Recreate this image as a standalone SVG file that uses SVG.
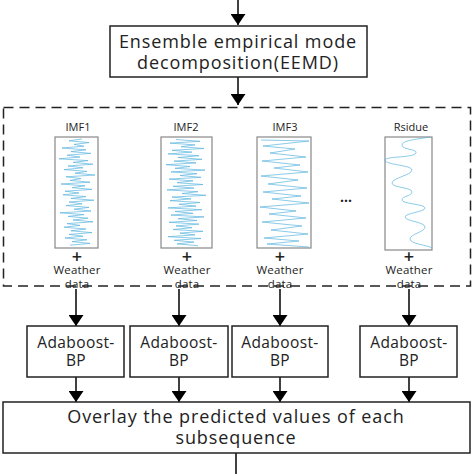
<svg xmlns="http://www.w3.org/2000/svg" width="474" height="474" viewBox="0 0 474 474">
<defs>
<marker id="ah" viewBox="0 0 11 15" refX="11" refY="7.5" markerWidth="11" markerHeight="15" markerUnits="userSpaceOnUse" orient="auto">
<path d="M0,0 L11,7.5 L0,15 Z" fill="#000"/>
</marker>
<style>
.box{fill:#fff;stroke:#222;stroke-width:1.5}
.t{font-family:"Open Sans","Noto Sans",sans-serif;fill:#222;text-anchor:middle}
.big{font-size:18px;letter-spacing:0.9px}
.mid{font-size:15.5px;letter-spacing:0.4px}
.sm{font-size:11px}
.wd{font-size:11.5px;letter-spacing:0.2px}
.plus{font-size:18px;font-weight:600}
.con{stroke:#111;stroke-width:1.6;fill:none;marker-end:url(#ah)}
.frame{fill:#fff;stroke:#888;stroke-width:1.2}
.wave{fill:none;stroke:#5ab4de;stroke-width:0.7;stroke-linejoin:round}
</style>
</defs>
<rect width="474" height="474" fill="#fff"/>

<g id="connectors">
<line class="con" x1="238" y1="0" x2="238" y2="25"/>
<line class="con" x1="238" y1="77" x2="238" y2="105"/>
<line class="con" x1="76" y1="289" x2="76" y2="326"/>
<line class="con" x1="179" y1="289" x2="179" y2="326"/>
<line class="con" x1="280" y1="289" x2="280" y2="326"/>
<line class="con" x1="409" y1="289" x2="409" y2="326"/>
<line class="con" x1="76" y1="377" x2="76" y2="402"/>
<line class="con" x1="179" y1="377" x2="179" y2="402"/>
<line class="con" x1="280" y1="377" x2="280" y2="402"/>
<line class="con" x1="409" y1="377" x2="409" y2="402"/>
<line class="con" x1="236" y1="453" x2="236" y2="486"/>
</g>

<g id="eemd">
<rect class="box" x="110" y="26" width="257" height="51"/>
<text class="t big" x="238" y="48">Ensemble empirical mode</text>
<text class="t big" x="238" y="69">decomposition(EEMD)</text>
</g>

<g id="decomposition">
<rect x="3.5" y="107.5" width="467" height="178.5" fill="none" stroke="#222" stroke-width="1.5" stroke-dasharray="10,6"/>

<g id="imf1">
<text class="t sm" x="78" y="131">IMF1</text>
<rect class="frame" x="55" y="137" width="43" height="111"/>
<polyline class="wave" stroke="#3b9fd2" points="82,139 69,140.8 89,142.6 74,144.4 84,146.2 62,148 86,149.8 71,151.6 91,153.4 67,155.2 80,157 59,158.8 88,160.6 73,162.4 93,164.2 68,166 83,167.8 64,169.6 87,171.4 75,173.2 95,175 66,176.8 81,178.6 70,180.4 90,182.2 61,184 85,185.8 72,187.6 92,189.4 65,191.2 79,193 63,194.8 86,196.6 71,198.4 94,200.2 69,202 82,203.8 66,205.6 89,207.4 74,209.2 91,211 60,212.8 84,214.6 68,216.4 88,218.2 73,220 93,221.8 67,223.6 80,225.4 64,227.2 86,229 71,230.8 92,232.6 69,234.4 83,236.2 65,238 87,239.8 72,241.6 90,243.4 70,245.2"/>
<text class="t plus" x="77" y="263">+</text>
<text class="t wd" x="77" y="274">Weather</text>
<text class="t wd" x="77" y="288">data</text>
</g>

<g id="imf2">
<text class="t sm" x="186" y="131">IMF2</text>
<rect class="frame" x="161" y="137" width="51" height="111"/>
<polyline class="wave" stroke="#7cc8e8" points="176,139.5 200,141.3 170,143.1 195,144.9 181,146.7 204,148.5 172,150.3 192,152.1 168,153.9 199,155.7 178,157.5 202,159.3 174,161.1 196,162.9 166,164.7 190,166.5 175,168.3 205,170.1 171,171.9 197,173.7 180,175.5 201,177.3 169,179.1 193,180.9 177,182.7 203,184.5 173,186.3 194,188.1 167,189.9 198,191.7 182,193.5 206,195.3 172,197.1 191,198.9 170,200.7 200,202.5 179,204.3 196,206.1 168,207.9 202,209.7 175,211.5 193,213.3 171,215.1 204,216.9 178,218.7 197,220.5 169,222.3 199,224.1 176,225.9 192,227.7 173,229.5 203,231.3 180,233.1 195,234.9 168,236.7 201,238.5 174,240.3 194,242.1 177,243.9 198,245.7"/>
<text class="t plus" x="187" y="263">+</text>
<text class="t wd" x="187" y="274">Weather</text>
<text class="t wd" x="187" y="288">data</text>
</g>

<g id="imf3">
<text class="t sm" x="285" y="131">IMF3</text>
<rect class="frame" x="257" y="137" width="54" height="111"/>
<polyline class="wave" points="261,140 309,141 263,146 295,149 270,153 306,157 262,161 300,165 274,168 308,172 261,176 298,180 268,184 307,188 263,192 301,196 272,199 309,203 260,207 296,211 269,214 306,218 262,222 302,226 271,230 308,234 264,238 299,241 267,244 309,247"/>
<text class="t plus" x="280" y="263">+</text>
<text class="t wd" x="280" y="274">Weather</text>
<text class="t wd" x="280" y="288">data</text>
</g>

<text class="t" x="346" y="202" font-size="14" font-weight="bold">...</text>

<g id="residue">
<text class="t sm" x="411" y="131">Rsidue</text>
<rect class="frame" x="385" y="137" width="47" height="113"/>
<path class="wave" d="M430,137 C420,139 402,140 402,145 C402,150 418,149 416,153 C414,158 386,156 385,160 C385,165 412,165 412,170 C412,175 392,178 392,183 C392,188 412,187 412,192 C412,196 402,196 402,200 C402,204 425,204 425,208 C425,212 405,213 405,217 C405,221 425,222 425,227 C425,232 410,234 410,239 C410,244 428,245 432,248"/>
<text class="t plus" x="409" y="263">+</text>
<text class="t wd" x="409" y="274">Weather</text>
<text class="t wd" x="409" y="288">data</text>
</g>
</g>

<g id="ada1">
<rect class="box" x="27" y="326" width="97" height="51"/>
<text class="t mid" x="76" y="348">Adaboost-</text>
<text class="t mid" x="76" y="366">BP</text>
</g>
<g id="ada2">
<rect class="box" x="130" y="326" width="98" height="51"/>
<text class="t mid" x="179" y="348">Adaboost-</text>
<text class="t mid" x="179" y="366">BP</text>
</g>
<g id="ada3">
<rect class="box" x="232" y="326" width="96" height="51"/>
<text class="t mid" x="280" y="348">Adaboost-</text>
<text class="t mid" x="280" y="366">BP</text>
</g>
<g id="ada4">
<rect class="box" x="360" y="326" width="97" height="51"/>
<text class="t mid" x="409" y="348">Adaboost-</text>
<text class="t mid" x="409" y="366">BP</text>
</g>

<g id="overlay">
<rect class="box" x="3" y="402" width="467" height="51"/>
<text class="t big" x="236" y="423">Overlay the predicted values of each</text>
<text class="t big" x="236" y="444">subsequence</text>
</g>
</svg>
